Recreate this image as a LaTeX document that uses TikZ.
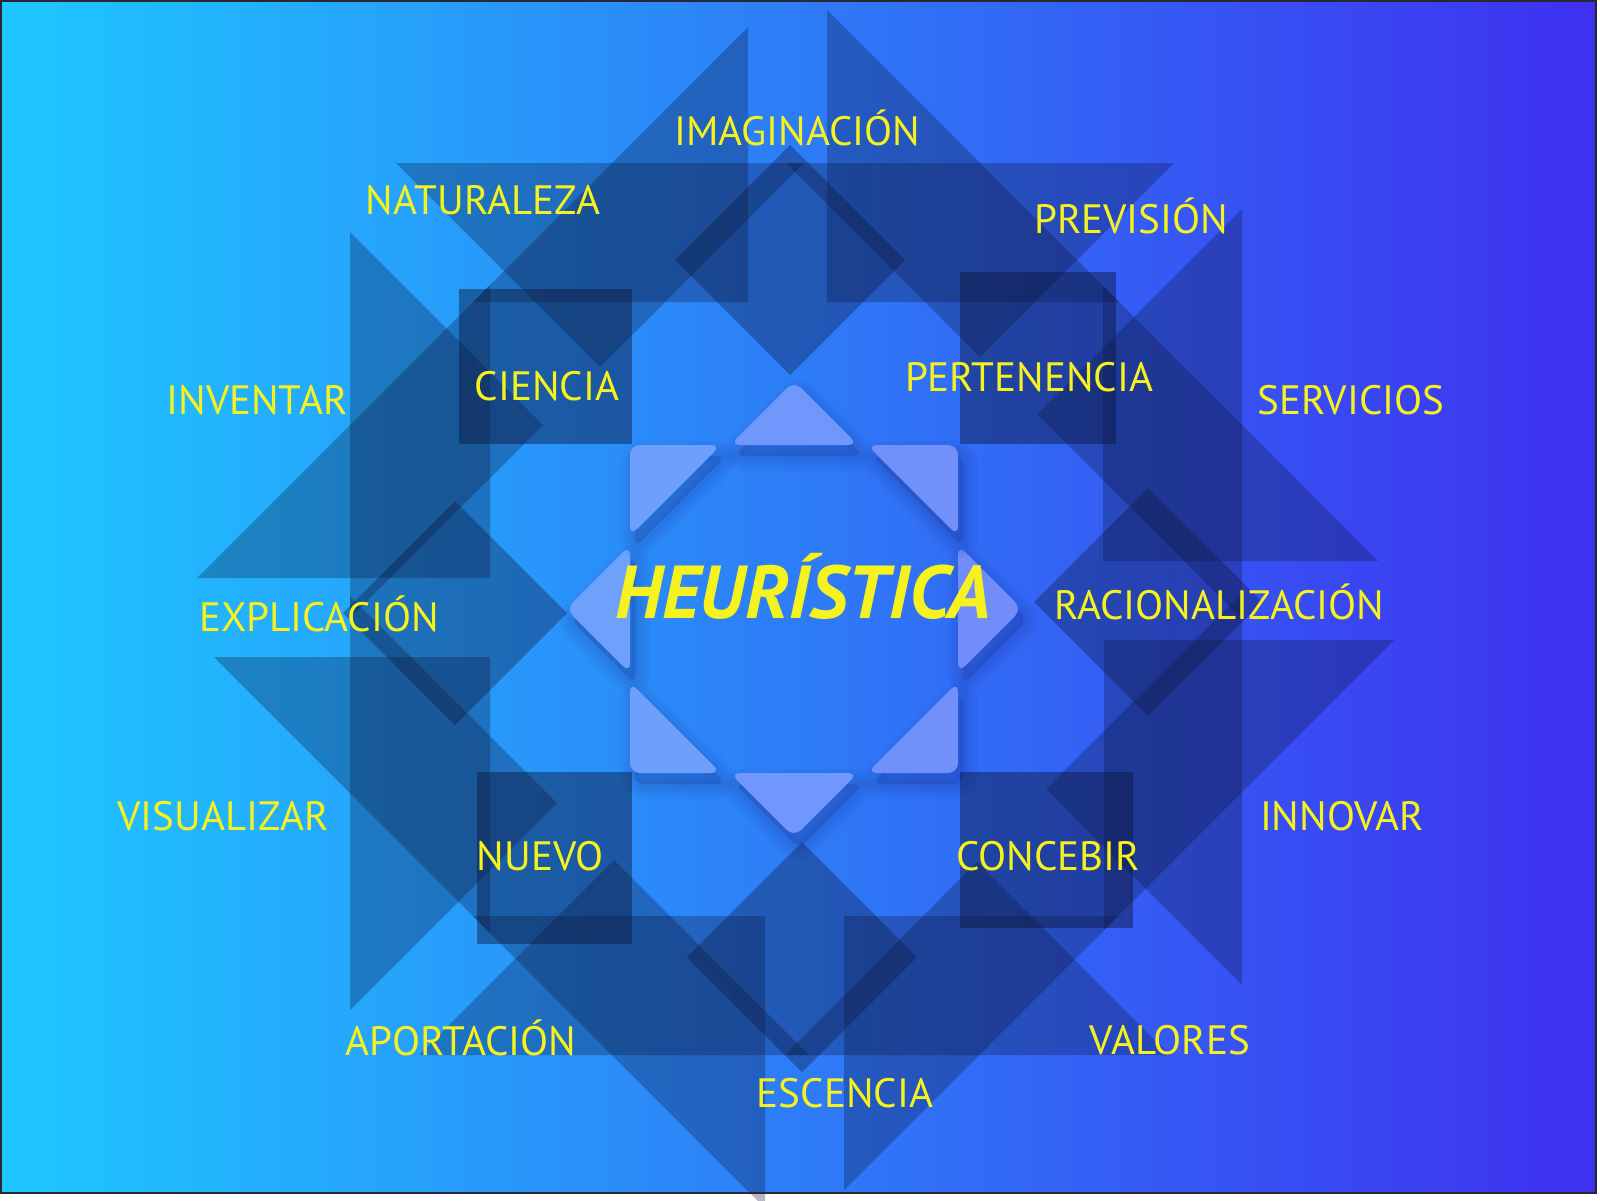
\documentclass[tikz,border=0pt]{standalone}
\usepackage{fontspec}
\setmainfont{PT Sans}

\definecolor{cian}{RGB}{30,200,255}
\definecolor{violeta}{RGB}{62,48,240}
\definecolor{marino}{RGB}{12,22,60}
\definecolor{amarillo}{RGB}{246,242,30}
\definecolor{lila}{RGB}{192,184,255}
\definecolor{sombra}{RGB}{20,30,110}
\definecolor{marco}{RGB}{40,40,50}

\tikzset{
  tri/.style={fill=marino, fill opacity=0.3},
  cuadro/.style={fill=marino, fill opacity=0.45},
  rombo/.style={fill=marino, fill opacity=0.35},
  etiqueta/.style={text=amarillo, font=\fontsize{41}{48}\selectfont, anchor=base, inner sep=0pt},
  halo/.style={draw=sombra, fill=sombra, opacity=0.045, line join=round, rounded corners=9pt, shift={(5,11)}},
}

% 带阴影的浅色三角形: #1 路径, #2 背景中青色的百分比
\newcommand{\flecha}[2]{%
  \colorlet{fondo}{cian!#2!violeta}
  \filldraw[halo, line width=30pt] #1;
  \filldraw[halo, line width=22pt] #1;
  \filldraw[halo, line width=14pt] #1;
  \filldraw[halo, line width=6pt] #1;
  \fill[lila!45!fondo, rounded corners=10pt] #1;
}

\begin{document}
\begin{tikzpicture}[x=1pt, y=-1pt]
    \useasboundingbox (0,0) rectangle (1600,1200);
    % 背景渐变
    \fill[white] (0,0) rectangle (1600,1200);
    \shade[left color=cian, right color=violeta] (1,1) rectangle (1596,1193);

    % 外圈大三角形
    \fill[tri] (748,27) -- (748,302) -- (473,302) -- cycle;
    \fill[tri] (827,10) -- (827,302) -- (1119,302) -- cycle;
    \fill[tri] (1103,286) -- (1103,561) -- (1378,561) -- cycle;
    \fill[tri] (1104,640) -- (1394,640) -- (1104,930) -- cycle;
    \fill[tri] (844,916) -- (1118,916) -- (844,1190) -- cycle;
    \fill[tri] (473,916) -- (765,916) -- (765,1208) -- cycle;
    \fill[tri] (214,657) -- (490,657) -- (490,933) -- cycle;
    \fill[tri] (490,285) -- (490,578) -- (197,578) -- cycle;

    % 指向中心的三角形
    \fill[tri] (396,163) -- (804,163) -- (600,367) -- cycle;
    \fill[tri] (786,163) -- (1174,163) -- (980,357) -- cycle;
    \fill[tri] (1242,209) -- (1242,619) -- (1037,414) -- cycle;
    \fill[tri] (1242,593) -- (1242,985) -- (1046,789) -- cycle;
    \fill[tri] (785,1055) -- (1170,1055) -- (977,862) -- cycle;
    \fill[tri] (419,1055) -- (809,1055) -- (614,860) -- cycle;
    \fill[tri] (350,596) -- (350,1010) -- (557,803) -- cycle;
    \fill[tri] (350,232) -- (350,618) -- (543,425) -- cycle;

    % 方块
    \fill[cuadro] (459,289) rectangle (632,444);
    \fill[cuadro] (960,272) rectangle (1116,444);
    \fill[cuadro] (477,772) rectangle (632,944);
    \fill[cuadro] (960,772) rectangle (1133,928);

    % 菱形
    \fill[rombo] (790,145) -- (905,260) -- (790,375) -- (675,260) -- cycle;
    \fill[rombo] (455,501) -- (567,613) -- (455,725) -- (343,613) -- cycle;
    \fill[rombo] (1148,488) -- (1262,602) -- (1148,716) -- (1034,602) -- cycle;
    \fill[rombo] (802,842) -- (917,957) -- (802,1072) -- (687,957) -- cycle;

    % 中心的浅色三角形
    \flecha{(730,445) -- (794,381) -- (858,445) -- cycle}{50}
    \flecha{(730,773) -- (794,837) -- (858,773) -- cycle}{50}
    \flecha{(630,545) -- (566,609) -- (630,673) -- cycle}{62}
    \flecha{(958,545) -- (1022,609) -- (958,673) -- cycle}{38}
    \flecha{(630,445) -- (721,445) -- (630,536) -- cycle}{59}
    \flecha{(958,445) -- (867,445) -- (958,536) -- cycle}{42}
    \flecha{(630,773) -- (630,682) -- (721,773) -- cycle}{59}
    \flecha{(958,773) -- (958,682) -- (867,773) -- cycle}{42}

    % 文字
    \node[etiqueta] (imaginacion) at (797,145) {IMAGINACIÓN};
    \node[etiqueta] (naturaleza) at (483,214) {NATURALEZA};
    \node[etiqueta] (prevision) at (1131,233) {PREVISIÓN};
    \node[etiqueta] (inventar) at (257,414) {INVENTAR};
    \node[etiqueta] (ciencia) at (547,400) {CIENCIA};
    \node[etiqueta] (pertenencia) at (1029,391) {PERTENENCIA};
    \node[etiqueta] (servicios) at (1351,414) {SERVICIOS};
    \node[etiqueta] (explicacion) at (319,631) {EXPLICACIÓN};
    \node[etiqueta] (racionalizacion) at (1219,619) {RACIONALIZACIÓN};
    \node[etiqueta] (visualizar) at (223,830) {VISUALIZAR};
    \node[etiqueta] (nuevo) at (540,870) {NUEVO};
    \node[etiqueta] (concebir) at (1048,870) {CONCEBIR};
    \node[etiqueta] (innovar) at (1342,830) {INNOVAR};
    \node[etiqueta] (aportacion) at (461,1055) {APORTACIÓN};
    \node[etiqueta] (valores) at (1170,1054) {VALORES};
    \node[etiqueta] (escencia) at (845,1107) {ESCENCIA};
    \node[text=amarillo, font=\fontsize{75}{84}\selectfont\bfseries\itshape, anchor=base, inner sep=0pt] (heuristica) at (803,618) {HEURÍSTICA};

    % 边框
    \draw[marco, line width=2pt] (1,1) rectangle (1596,1193);
\end{tikzpicture}
\end{document}
